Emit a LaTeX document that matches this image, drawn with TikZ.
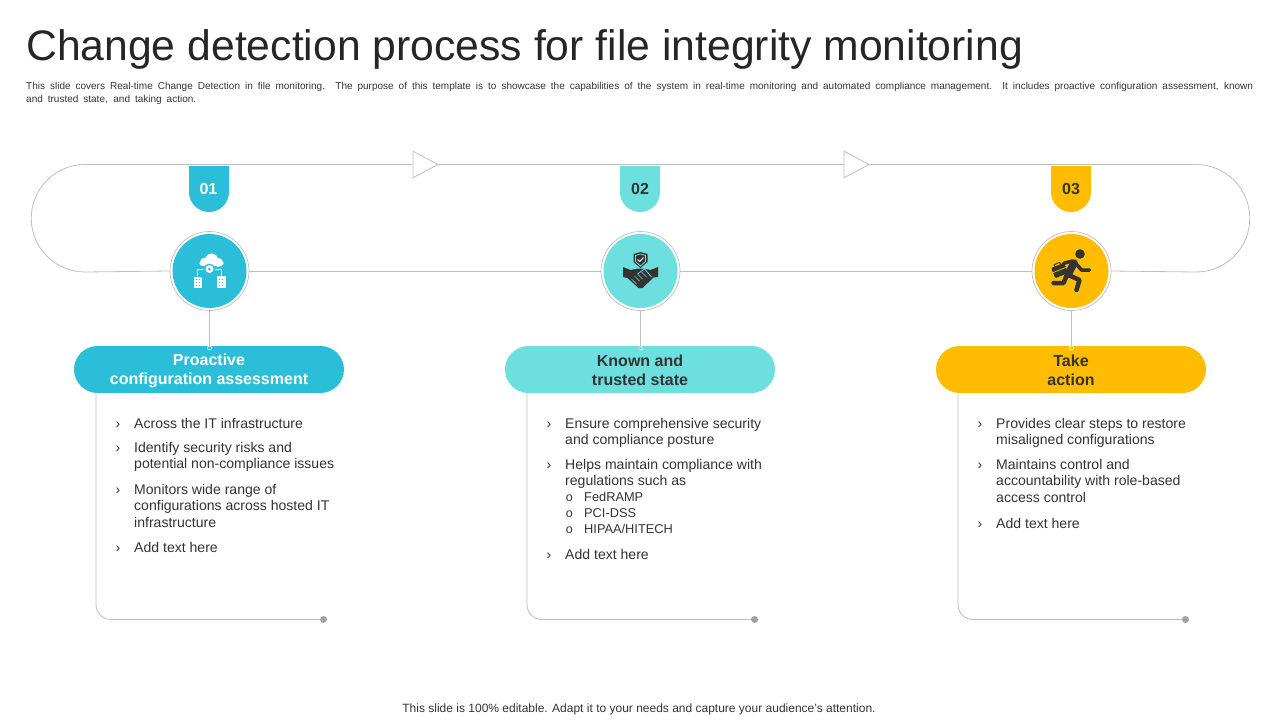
\documentclass[tikz,border=0pt]{standalone}
\usepackage{fontspec}
\setmainfont{Liberation Sans}
\usetikzlibrary{calc}
\usetikzlibrary{shapes.geometric}
\definecolor{stepblue}{HTML}{2BBED8}
\definecolor{stepteal}{HTML}{6DDFDF}
\definecolor{stepyellow}{HTML}{FFBC00}
\definecolor{darktext}{HTML}{333333}
\definecolor{linegray}{HTML}{BFBFBF}
\tikzset{
  trackline/.style={draw=linegray,line width=0.8pt},
  ringnode/.style={circle,draw=linegray,fill=white,line width=0.7pt,minimum size=79pt,inner sep=0pt},
  discnode/.style={circle,minimum size=74pt,inner sep=0pt},
  barnode/.style={rounded corners=23.5pt,minimum width=270pt,minimum height=47pt,inner sep=0pt,align=center,font=\fontsize{16}{19}\selectfont\bfseries},
  tipnode/.style={isosceles triangle,isosceles triangle apex angle=56,draw=linegray,fill=white,line width=0.8pt,minimum height=25pt,inner sep=0pt},
  endnode/.style={circle,fill=linegray!85!black,minimum size=7pt,inner sep=0pt},
  pinnode/.style={circle,draw=white,line width=0.6pt,minimum size=4pt,inner sep=0pt},
  itemnode/.style={anchor=north west,inner sep=0pt,align=left,text=darktext,font=\fontsize{14.05}{16.8}\selectfont},
  numnode/.style={font=\fontsize{16}{19}\selectfont\bfseries}
}
\newcommand{\tagshape}[2]{\fill[#2] ($(#1)+(-20,-23)$) -- ($(#1)+(20,-23)$) -- ($(#1)+(20,3)$) arc (0:180:20) -- cycle;}
\newcommand{\bul}{\makebox[0pt][r]{›\hspace{14pt}}}
\newcommand{\subbul}{\makebox[0pt][r]{\fontsize{12.5}{16}\selectfont o\hspace{11.5pt}}}
\newcommand{\barlift}{\rule{0pt}{13.6pt}}
\begin{document}
\begin{tikzpicture}[x=1pt,y=-1pt]
\useasboundingbox (0,0) rectangle (1280,720);
\node[anchor=base west,inner sep=0pt,text=black!85,font=\fontsize{42.7}{50}\selectfont] (title) at (26,60) {Change detection process for file integrity monitoring};
\node[anchor=base west,inner sep=0pt,text=darktext,font=\fontsize{10}{13}\selectfont] (sub1) at (26,89) {\makebox[1227pt][s]{This slide covers Real-time Change Detection in file monitoring. The purpose of this template is to showcase the capabilities of the system in real-time monitoring and automated compliance management. It includes proactive configuration assessment, known}};
\node[anchor=base west,inner sep=0pt,text=darktext,font=\fontsize{10}{13}\selectfont] (sub2) at (26,102) {\makebox[170pt][s]{and trusted state, and taking action.}};

\node[ringnode] (ring1) at (209.5,271) {};
\node[ringnode] (ring2) at (640.5,271) {};
\node[ringnode] (ring3) at (1071.5,271) {};
\node[tipnode] (tip1) at (421,164.5) {};
\node[tipnode] (tip2) at (852,164.5) {};
\coordinate (lefttop) at (85,164.5);
\coordinate (righttop) at (1196,164.5);
\draw[trackline] (ring1.west) -- (85,272) arc (90:270:53.75) -- (tip1.west);
\draw[trackline] (tip1.east) -- (tip2.west);
\draw[trackline] (tip2.east) -- (righttop) arc (-90:90:53.75) -- (ring3.east);
\draw[trackline] (ring1.east) -- (ring2.west);
\draw[trackline] (ring2.east) -- (ring3.west);

\node[discnode,fill=stepblue] (disc1) at (ring1) {};
\node[discnode,fill=stepteal] (disc2) at (ring2) {};
\node[discnode,fill=stepyellow] (disc3) at (ring3) {};

\tagshape{209,189}{stepblue}
\tagshape{640,189}{stepteal}
\tagshape{1071,189}{stepyellow}
\node[numnode,text=white] (num1) at (208.5,189) {01};
\node[numnode,text=darktext] (num2) at (640,189) {02};
\node[numnode,text=darktext] (num3) at (1071,189) {03};

\node[barnode,fill=stepblue,text=white] (bar1) at (209,369.5) {\barlift Proactive~\\configuration assessment};
\node[barnode,fill=stepteal,text=darktext] (bar2) at (640,369.5) {\barlift Known and~\\trusted state};
\node[barnode,fill=stepyellow,text=darktext] (bar3) at (1071,369.5) {\barlift Take~\\action};

\node[pinnode] (pin1) at (209.5,348) {};
\node[pinnode] (pin2) at (640.5,348) {};
\node[pinnode] (pin3) at (1071.5,348) {};
\draw[trackline] (ring1.south) -- (pin1.north);
\draw[trackline] (ring2.south) -- (pin2.north);
\draw[trackline] (ring3.south) -- (pin3.north);

\node[endnode] (end1) at (323.5,619.5) {};
\node[endnode] (end2) at (754.5,619.5) {};
\node[endnode] (end3) at (1185.5,619.5) {};
\coordinate (foot1) at (96,393);
\coordinate (foot2) at (527,393);
\coordinate (foot3) at (958,393);
\draw[trackline,rounded corners=15pt] (foot1) |- (end1);
\draw[trackline,rounded corners=15pt] (foot2) |- (end2);
\draw[trackline,rounded corners=15pt] (foot3) |- (end3);

\node[itemnode] (a1) at (134,417.7) {\bul Across the IT infrastructure};
\node[itemnode] (a2) at (134,441.7) {\bul Identify security risks and\\potential non-compliance issues};
\node[itemnode] (a3) at (134,483.7) {\bul Monitors wide range of\\configurations across hosted IT\\infrastructure};
\node[itemnode] (a4) at (134,541.7) {\bul Add text here};

\node[itemnode] (b1) at (565,417.7) {\bul Ensure comprehensive security\\and compliance posture};
\node[itemnode] (b2) at (565,458.7) {\bul Helps maintain compliance with\\regulations such as};
\node[itemnode,font=\fontsize{12.8}{16}\selectfont] (b3) at (584,492) {\subbul FedRAMP\\\subbul PCI-DSS\\\subbul HIPAA/HITECH};
\node[itemnode] (b4) at (565,548.7) {\bul Add text here};

\node[itemnode] (c1) at (996,417.7) {\bul Provides clear steps to restore\\misaligned configurations};
\node[itemnode] (c2) at (996,458.7) {\bul Maintains control and\\accountability with role-based\\access control};
\node[itemnode] (c3) at (996,517.7) {\bul Add text here};

\node[inner sep=0pt,text=darktext,font=\fontsize{12}{14}\selectfont] (foot) at (639,709.5) {This slide is 100\% editable. Adapt it to your needs and capture your audience's attention.};

\begin{scope}[shift={(209.5,271)},fill=white,draw=white]
\fill (-5,-9) circle (4.2);
\fill (2,-11) circle (6.5);
\fill (9,-8.5) circle (4.5);
\fill[rounded corners=2pt] (-10,-10) rectangle (14,-5.5);
\draw[line width=0.8pt] (-12,5) -- (-12,-2) -- (12,-2) -- (12,5);
\fill[stepblue] (0,-2) circle (5.5);
\fill (0,-2) circle (4);
\fill[stepblue] (0,-2) circle (1.5);
\fill (-16,6) rectangle (-8,17);
\fill (7,5) rectangle (16,17);
\foreach \y in {8,11,14} {
  \fill[stepblue] (-14,\y) rectangle (-12.8,\y+1.2);
  \fill[stepblue] (-11,\y) rectangle (-9.8,\y+1.2);
  \fill[stepblue] (9,\y) rectangle (10.2,\y+1.2);
  \fill[stepblue] (12.5,\y) rectangle (13.7,\y+1.2);
}
\end{scope}

\begin{scope}[shift={(640.5,271)},fill=darktext]
\fill (-7,-17) -- (0,-19) -- (7,-17) -- (7,-9) -- (0,-3) -- (-7,-9) -- cycle;
\draw[stepteal,line width=0.8pt] (-5,-15.5) -- (0,-17) -- (5,-15.5) -- (5,-9.5) -- (0,-5) -- (-5,-9.5) -- cycle;
\draw[white,line width=1pt] (-3,-11.5) -- (-0.8,-9.5) -- (3,-13.5);
\fill (-17.5,-4) -- (-10,-1) -- (-2,-2.5) -- (3,-2.5) -- (10,-1) -- (17.5,-4) -- (17.5,6) -- (13,6.5) -- (2,17) -- (-2,17) -- (-13,7) -- (-17.5,6) -- cycle;
\draw[stepteal,line width=0.8pt] (-3,3) -- (4,-2) -- (11,6);
\draw[stepteal,line width=0.6pt] (-6,5) -- (-1,10) (-3,3) -- (2,8) (1,1) -- (6,6) (-9,8) -- (-4,13);
\end{scope}

\begin{scope}[shift={(1071.5,271)},draw=darktext,fill=darktext,line cap=round,line join=round]
\fill (8.5,-17) circle (4.8);
\draw[line width=7.5pt] (2.5,-8) -- (-3.5,3.5);
\draw[line width=3.5pt] (3,-9) -- (10,-1) -- (18,-1);
\draw[line width=3.5pt] (1,-10) -- (-7,-8) -- (-11,-3);
\draw[line width=4.5pt] (-3,4) -- (8,9) -- (5,19);
\draw[line width=4.5pt] (-5,5) -- (-8,12) -- (-18,12);
\fill[rounded corners=1pt,rotate around={22:(-12,-1)}] (-19,-6) rectangle (-5,5);
\draw[stepyellow,line width=0.7pt,rotate around={22:(-12,-1)}] (-19,-1) -- (-5,-1);
\draw[line width=0.9pt,fill=none,rotate around={22:(-12,-1)}] (-15,-6) -- (-15,-8) -- (-9,-8) -- (-9,-6);
\end{scope}
\end{tikzpicture}
\end{document}
